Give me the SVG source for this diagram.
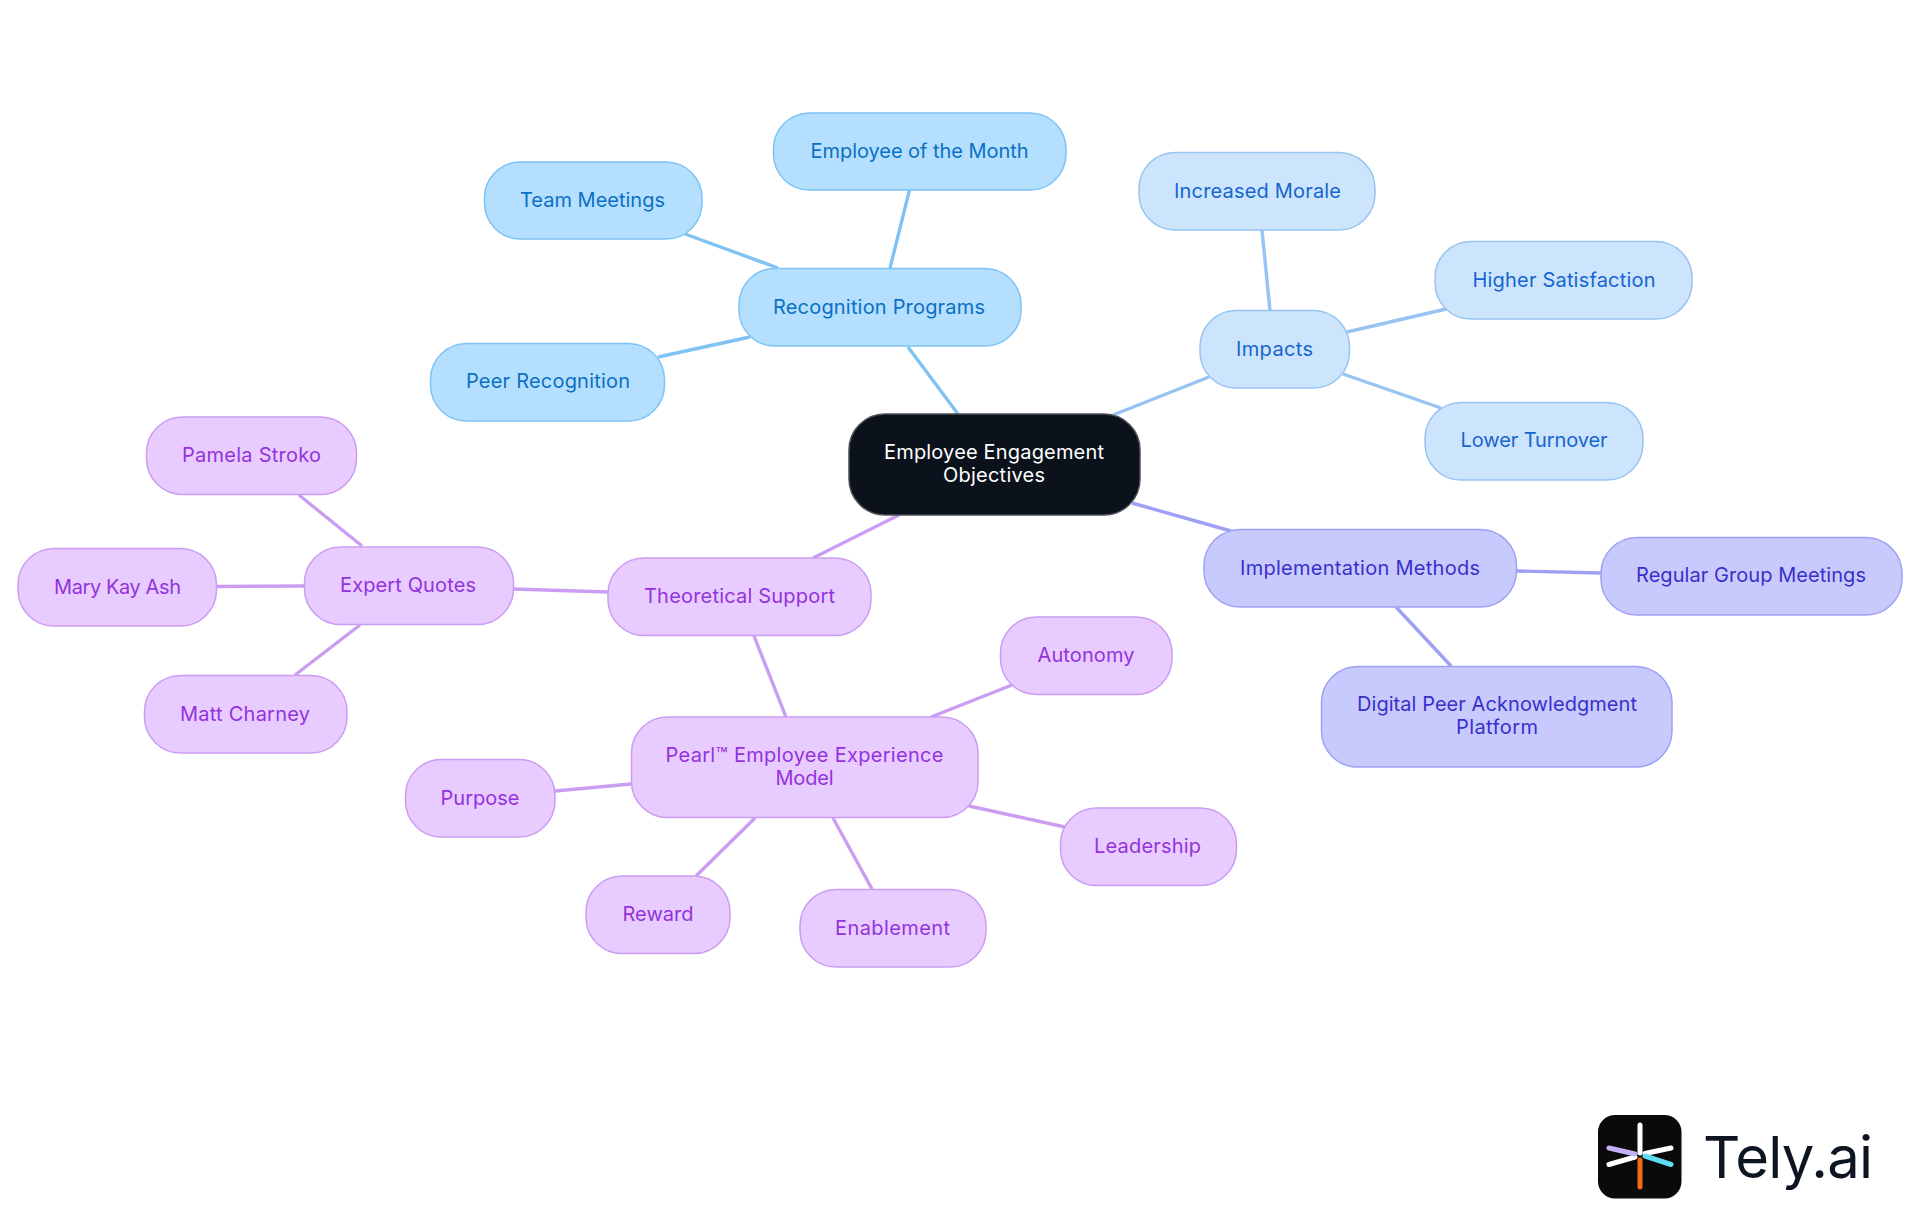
<svg xmlns="http://www.w3.org/2000/svg" width="1920" height="1215" viewBox="0 0 1920 1215">
<style>
text{font-family:"Inter","Liberation Sans",sans-serif;font-size:20px;font-weight:400;text-anchor:middle}
.c line{stroke-width:3.4;stroke-linecap:butt;fill:none}
.n rect{stroke-width:1.5}
.a line{stroke:#7ec3f4}.a2 line{stroke:#97c4f2}.b line{stroke:#9ea0f5}.p line{stroke:#cb9df2}
rect.a{fill:#b4dfff;stroke:#7ec3f4}text.a{fill:#0b70c4}
rect.a2{fill:#cde4fd;stroke:#97c4f2}text.a2{fill:#1466d0}
rect.b{fill:#c8cafe;stroke:#9ea0f5}text.b{fill:#3830c9}
rect.p{fill:#e8cbff;stroke:#cb9df2}text.p{fill:#9333dd}
</style>
<rect width="1920" height="1215" fill="#fff"/>
<g id="connectors" class="c">
<g class="a">
<line x1="908" y1="347" x2="958" y2="414"/>
<line x1="909.5" y1="190" x2="890" y2="268"/>
<line x1="685" y1="234" x2="778" y2="268"/>
<line x1="658" y1="357" x2="750" y2="337"/>
</g>
<g class="a2">
<line x1="1113" y1="415" x2="1209" y2="377"/>
<line x1="1262" y1="230" x2="1270" y2="311"/>
<line x1="1347" y1="332" x2="1446" y2="309"/>
<line x1="1343" y1="374" x2="1441" y2="408"/>
</g>
<g class="b">
<line x1="1132" y1="503" x2="1231" y2="531"/>
<line x1="1517" y1="571" x2="1601" y2="573"/>
<line x1="1396" y1="607" x2="1451" y2="666"/>
</g>
<g class="p">
<line x1="899" y1="515" x2="813" y2="558"/>
<line x1="513" y1="589" x2="608" y2="592"/>
<line x1="299" y1="495" x2="362" y2="546"/>
<line x1="216" y1="586.5" x2="304" y2="586"/>
<line x1="360" y1="625" x2="295" y2="675"/>
<line x1="754" y1="636" x2="786" y2="717"/>
<line x1="931" y1="717" x2="1012" y2="685"/>
<line x1="969" y1="806" x2="1065" y2="827"/>
<line x1="555" y1="791" x2="631" y2="784"/>
<line x1="755" y1="818" x2="696" y2="876"/>
<line x1="833" y1="818" x2="872" y2="889"/>
</g>
</g>
<g id="root" class="n"><rect x="849" y="414" width="291" height="101" rx="36" fill="#0b121b" stroke="#4b5056"/><text x="994" y="459" fill="#fff" textLength="220" lengthAdjust="spacing">Employee Engagement</text><text x="994" y="482" fill="#fff" textLength="102" lengthAdjust="spacing">Objectives</text></g>
<g id="recognition" class="n"><rect class="a" x="739" y="268.500" width="282" height="77.500" rx="36"/><text class="a" x="879" y="314" textLength="212" lengthAdjust="spacing">Recognition Programs</text></g>
<g id="employee-month" class="n"><rect class="a" x="773.500" y="113" width="292.500" height="77" rx="36"/><text class="a" x="919.500" y="158" textLength="218" lengthAdjust="spacing">Employee of the Month</text></g>
<g id="team-meetings" class="n"><rect class="a" x="484.500" y="162" width="217.500" height="77" rx="36"/><text class="a" x="592.500" y="207" textLength="145" lengthAdjust="spacing">Team Meetings</text></g>
<g id="peer-recognition" class="n"><rect class="a" x="430.500" y="343.500" width="234" height="77.500" rx="36"/><text class="a" x="548" y="388" textLength="164" lengthAdjust="spacing">Peer Recognition</text></g>
<g id="impacts" class="n"><rect class="a2" x="1200" y="310.500" width="149.500" height="77.500" rx="36"/><text class="a2" x="1274.500" y="355.500" textLength="77" lengthAdjust="spacing">Impacts</text></g>
<g id="increased-morale" class="n"><rect class="a2" x="1139" y="152.500" width="236" height="77.500" rx="36"/><text class="a2" x="1257.500" y="197.500" textLength="167" lengthAdjust="spacing">Increased Morale</text></g>
<g id="higher-satisfaction" class="n"><rect class="a2" x="1435" y="241.500" width="257" height="77.500" rx="36"/><text class="a2" x="1564" y="286.500" textLength="183" lengthAdjust="spacing">Higher Satisfaction</text></g>
<g id="lower-turnover" class="n"><rect class="a2" x="1425" y="402.500" width="218" height="77.500" rx="36"/><text class="a2" x="1534" y="446.500" textLength="147" lengthAdjust="spacing">Lower Turnover</text></g>
<g id="implementation" class="n"><rect class="b" x="1204" y="529.500" width="312.500" height="77.500" rx="36"/><text class="b" x="1360" y="574.500" textLength="240" lengthAdjust="spacing">Implementation Methods</text></g>
<g id="regular-meetings" class="n"><rect class="b" x="1601" y="537.500" width="301" height="77.500" rx="36"/><text class="b" x="1751" y="581.500" textLength="230" lengthAdjust="spacing">Regular Group Meetings</text></g>
<g id="digital-peer" class="n"><rect class="b" x="1321.500" y="666.500" width="350.500" height="100.500" rx="36"/><text class="b" x="1497" y="710.500" textLength="280" lengthAdjust="spacing">Digital Peer Acknowledgment</text><text class="b" x="1497" y="733.500" textLength="82" lengthAdjust="spacing">Platform</text></g>
<g id="theoretical" class="n"><rect class="p" x="608" y="558" width="263" height="77.500" rx="36"/><text class="p" x="739.500" y="603" textLength="191" lengthAdjust="spacing">Theoretical Support</text></g>
<g id="expert-quotes" class="n"><rect class="p" x="304.500" y="547" width="209" height="77.500" rx="36"/><text class="p" x="408" y="592" textLength="136" lengthAdjust="spacing">Expert Quotes</text></g>
<g id="pamela" class="n"><rect class="p" x="146.500" y="417" width="210" height="77.500" rx="36"/><text class="p" x="251.500" y="462" textLength="139" lengthAdjust="spacing">Pamela Stroko</text></g>
<g id="mary" class="n"><rect class="p" x="18" y="548.500" width="198.500" height="77.500" rx="36"/><text class="p" x="117.500" y="593.500" textLength="127" lengthAdjust="spacing">Mary Kay Ash</text></g>
<g id="matt" class="n"><rect class="p" x="144.500" y="675.500" width="202.500" height="77.500" rx="36"/><text class="p" x="245" y="720.500" textLength="130" lengthAdjust="spacing">Matt Charney</text></g>
<g id="pearl" class="n"><rect class="p" x="631.500" y="717" width="346.500" height="100.500" rx="36"/><text class="p" x="804.500" y="762" textLength="278" lengthAdjust="spacing">Pearl™ Employee Experience</text><text class="p" x="804.500" y="785" textLength="58" lengthAdjust="spacing">Model</text></g>
<g id="autonomy" class="n"><rect class="p" x="1000.500" y="617" width="171.500" height="77.500" rx="36"/><text class="p" x="1086" y="662" textLength="97" lengthAdjust="spacing">Autonomy</text></g>
<g id="purpose" class="n"><rect class="p" x="405.500" y="759.500" width="149.500" height="77.500" rx="36"/><text class="p" x="480" y="804.500" textLength="79" lengthAdjust="spacing">Purpose</text></g>
<g id="leadership" class="n"><rect class="p" x="1060.500" y="808" width="176" height="77.500" rx="36"/><text class="p" x="1147.500" y="853" textLength="107" lengthAdjust="spacing">Leadership</text></g>
<g id="reward" class="n"><rect class="p" x="586" y="876" width="144" height="77.500" rx="36"/><text class="p" x="658" y="921" textLength="71" lengthAdjust="spacing">Reward</text></g>
<g id="enablement" class="n"><rect class="p" x="800" y="889.500" width="186" height="77.500" rx="36"/><text class="p" x="892.500" y="934.500" textLength="115" lengthAdjust="spacing">Enablement</text></g>
<g id="logo">
<rect x="1598" y="1115" width="83.500" height="83.500" rx="17" fill="#0a0a0a"/>
<g stroke-width="5" stroke-linecap="round" fill="none">
<line x1="1609" y1="1164.500" x2="1635" y2="1157" stroke="#fff"/>
<line x1="1645" y1="1153.500" x2="1671" y2="1148" stroke="#fff"/>
<line x1="1640" y1="1125" x2="1640" y2="1153" stroke="#fff"/>
<line x1="1609" y1="1148" x2="1635" y2="1154" stroke="#c4b0f5"/>
<line x1="1645" y1="1156" x2="1671" y2="1164.500" stroke="#5fdcf0"/>
<line x1="1640" y1="1160" x2="1640" y2="1187" stroke="#f26a12"/>
</g>
<text x="1788" y="1178" fill="#0d1620" style="font-size:58px;font-weight:400" textLength="170" lengthAdjust="spacing">Tely.ai</text>
</g>
</svg>
